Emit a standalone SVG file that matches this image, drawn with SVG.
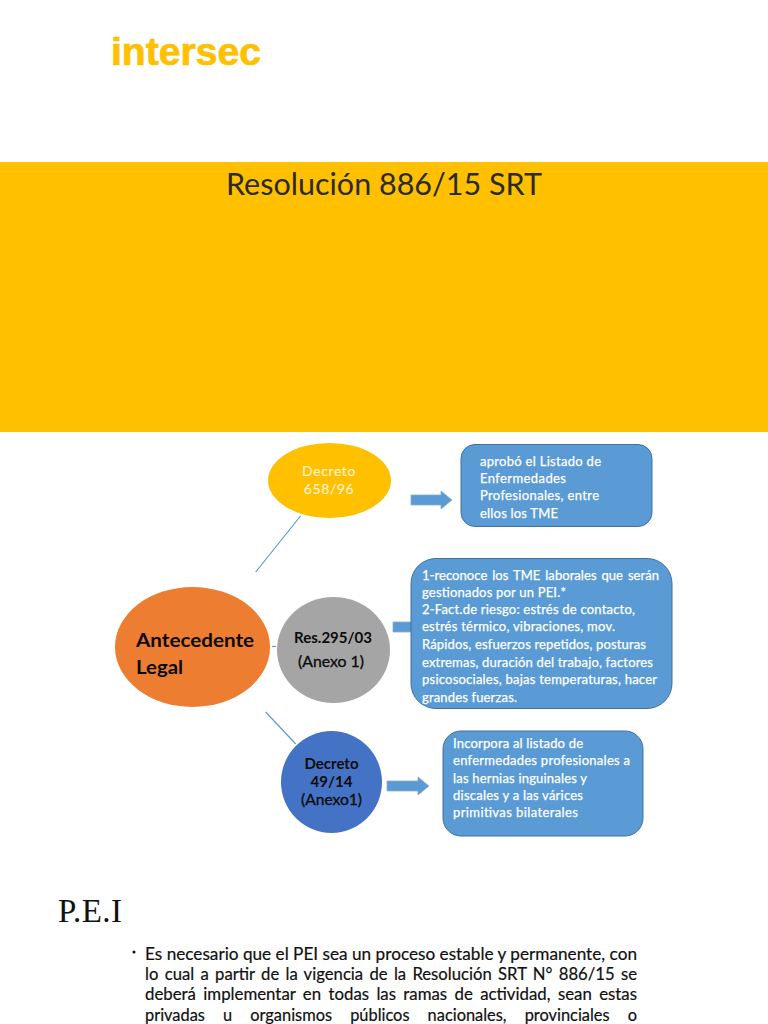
<svg xmlns="http://www.w3.org/2000/svg" width="768" height="1024" viewBox="0 0 768 1024">
<defs>
<style>
text{font-family:"Lato","Liberation Sans",sans-serif}
.box{fill:#5B9BD5;stroke:#41719C;stroke-width:1}
.conn{stroke:#5B9BD5;stroke-width:1.2;fill:none}
.arr{fill:#5B9BD5;stroke:#8EA9C4;stroke-width:.8}
.w{fill:#fff;font-size:13px;stroke:#fff;stroke-width:.25}
.b{fill:#0b0b0b;font-size:15px;font-weight:700;text-anchor:middle}
.m{fill:#0b0b0b;font-size:15px;text-anchor:middle;stroke:#0b0b0b;stroke-width:.3}
.p{fill:#111;font-size:16.5px;stroke:#111;stroke-width:.2}
</style>
</defs>
<rect width="768" height="1024" fill="#fff"/>
<text x="111" y="65" font-size="38" font-weight="700" fill="#FFC000" stroke="#FFC000" stroke-width=".7" textLength="150" lengthAdjust="spacingAndGlyphs" style="font-family:'Liberation Sans',sans-serif">intersec</text>
<rect x="0" y="162" width="768" height="270" fill="#FFC000"/>
<text x="226" y="195" font-size="31" fill="#2b2b2b" textLength="316" lengthAdjust="spacingAndGlyphs">Resolución 886/15 SRT</text>

<g id="connectors">
<line class="conn" x1="300.5" y1="516" x2="255.7" y2="572"/>
<line class="conn" x1="272" y1="646.5" x2="276" y2="646.5"/>
<line class="conn" x1="265.7" y1="712" x2="295.7" y2="744"/>
<path class="arr" d="M411 495H441V491L452 500L441 509V505H411Z"/>
<path class="arr" d="M393 622H412V632H393Z"/>
<path class="arr" d="M387 781H418V777L429 786L418 795V791H387Z"/>
</g>

<g id="node-antecedente">
<ellipse cx="192.5" cy="647" rx="77.5" ry="60" fill="#ED7D31"/>
<text x="136" y="647" font-size="18.5" font-weight="700" fill="#0b0b0b" textLength="118" lengthAdjust="spacingAndGlyphs">Antecedente</text>
<text x="136" y="674" font-size="18.5" font-weight="700" fill="#0b0b0b" textLength="47" lengthAdjust="spacingAndGlyphs">Legal</text>
</g>
<g id="node-decreto-658">
<ellipse cx="329.5" cy="480.5" rx="61.500" ry="37.500" fill="#FFC000"/>
<text x="329" y="476" font-size="14" fill="#FFF2CC" stroke="#FFF2CC" stroke-width=".2" text-anchor="middle" letter-spacing=".6">Decreto</text>
<text x="329" y="494" font-size="14" fill="#FFF2CC" stroke="#FFF2CC" stroke-width=".2" text-anchor="middle" letter-spacing=".6">658/96</text>
</g>
<g id="node-res-295">
<ellipse cx="333.5" cy="650" rx="56.500" ry="53" fill="#A5A5A5"/>
<text class="b" x="333" y="643" textLength="78" lengthAdjust="spacingAndGlyphs">Res.295/03</text>
<text class="m" x="331" y="667" textLength="66" lengthAdjust="spacingAndGlyphs">(Anexo 1)</text>
</g>
<g id="node-decreto-49">
<ellipse cx="331.5" cy="782" rx="50.500" ry="51" fill="#4472C4"/>
<text class="b" x="331.5" y="769" textLength="54" lengthAdjust="spacingAndGlyphs">Decreto</text>
<text class="b" x="331.5" y="787">49/14</text>
<text class="m" x="331.5" y="805" textLength="61" lengthAdjust="spacingAndGlyphs">(Anexo1)</text>
</g>

<g id="box-listado">
<rect class="box" x="461" y="444.500" width="191" height="82" rx="14"/>
<text class="w" x="480" y="466" textLength="121">aprobó el Listado de</text>
<text class="w" x="480" y="483" textLength="86">Enfermedades</text>
<text class="w" x="480" y="500" textLength="119">Profesionales, entre</text>
<text class="w" x="480" y="518" textLength="78">ellos los TME</text>
</g>
<g id="box-reconoce">
<rect class="box" x="411" y="558.500" width="261" height="150" rx="25"/>
<text class="w" x="422" y="580" textLength="237" word-spacing="1.5">1-reconoce los TME laborales  que  serán</text>
<text class="w" x="422" y="597" textLength="144">gestionados por un PEI.*</text>
<text class="w" x="422" y="614" textLength="213">2-Fact.de  riesgo: estrés de contacto,</text>
<text class="w" x="422" y="631" textLength="193">estrés térmico, vibraciones,  mov.</text>
<text class="w" x="422" y="649" textLength="224">Rápidos, esfuerzos repetidos, posturas</text>
<text class="w" x="422" y="667" textLength="231">extremas, duración del trabajo, factores</text>
<text class="w" x="422" y="684" textLength="235">psicosociales, bajas temperaturas, hacer</text>
<text class="w" x="422" y="702" textLength="95">grandes fuerzas.</text>
</g>
<g id="box-incorpora">
<rect class="box" x="443" y="731" width="200" height="105" rx="18"/>
<text class="w" x="453" y="748" textLength="130">Incorpora al listado de</text>
<text class="w" x="453" y="765" textLength="177">enfermedades profesionales a</text>
<text class="w" x="453" y="783" textLength="134">las hernias inguinales y</text>
<text class="w" x="453" y="800" textLength="130">discales y a las várices</text>
<text class="w" x="453" y="817" textLength="125">primitivas bilaterales</text>
</g>

<text x="58" y="922" font-size="33" fill="#111" textLength="64" style="font-family:'Liberation Serif',serif">P.E.I</text>
<circle cx="134" cy="952" r="1.5" fill="#111"/>
<text class="p" x="145" y="960" textLength="492" lengthAdjust="spacingAndGlyphs">Es necesario que el PEI sea un proceso estable y permanente, con</text>
<text class="p" x="145" y="980" textLength="492" lengthAdjust="spacingAndGlyphs" word-spacing="2">lo cual a partir de la vigencia de la Resolución SRT N° 886/15 se</text>
<text class="p" x="145" y="1000" textLength="492" lengthAdjust="spacingAndGlyphs" word-spacing="3">deberá implementar en todas las ramas de actividad, sean estas</text>
<text class="p" x="145" y="1021" textLength="492" lengthAdjust="spacingAndGlyphs" word-spacing="14">privadas u organismos públicos nacionales, provinciales o</text>
</svg>
